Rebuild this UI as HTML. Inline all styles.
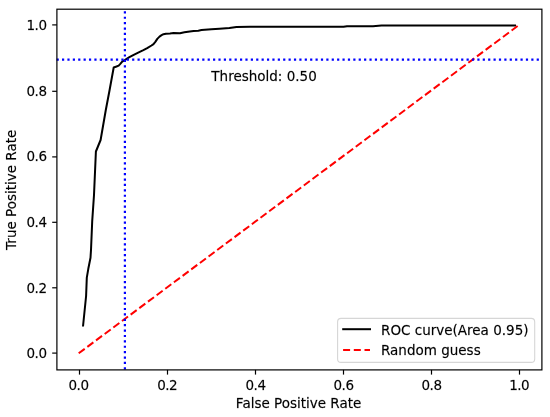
<!DOCTYPE html>
<html><head><meta charset="utf-8"><style>
html,body{margin:0;padding:0;background:#fff;}
svg{display:block;}
.tk{letter-spacing:-0.45px;}
text{font-family:"DejaVu Sans","Liberation Sans",sans-serif;font-size:13.5px;fill:#000;stroke:#000;stroke-width:0.3px;stroke-opacity:0.5;}
</style></head><body>
<svg width="550" height="417" viewBox="0 0 550 417">
<rect width="550" height="417" fill="#fff"/>
<g>
<polyline points="83.0,326.5 86.1,296.0 86.8,277.6 88.3,268.8 90.5,257.7 91.0,250.0 92.2,221.4 94.0,195.0 95.9,151.5 100.6,140.0 105.8,110.0 109.6,90.0 113.7,67.5 116.5,66.5 118.7,65.6 120.3,63.9 122.2,61.6 125.1,59.9 129.4,57.2 133.7,54.9 138.7,52.4 143.4,50.2 147.2,48.2 151.5,45.5 153.5,44.1 155.5,41.6 157.3,38.9 159.5,36.6 161.6,35.2 163.5,34.2 165.9,33.7 170.0,33.5 173.5,33.1 180.0,33.2 184.4,32.3 189.8,31.4 193.6,30.9 198.3,30.8 201.5,30.1 211.4,29.2 219.5,28.7 229.4,28.0 236.5,26.9 250.0,26.8 343.5,26.8 347.0,26.2 373.0,26.2 381.5,25.6 516.0,25.6" fill="none" stroke="#000" stroke-width="2" stroke-linejoin="round" stroke-linecap="butt"/>
<line x1="78.70" y1="353.32" x2="518.60" y2="25.32" stroke="#f00" stroke-width="2" stroke-dasharray="7.5 3.3"/>
<line x1="56.6" y1="59.65" x2="541.9" y2="59.65" stroke="#00f" stroke-width="2.2" stroke-dasharray="2.2 3.194"/>
<line x1="124.9" y1="369.45" x2="124.9" y2="9.2" stroke="#00f" stroke-width="2.2" stroke-dasharray="2.2 3.194"/>
<rect x="56.9" y="9.2" width="485.00" height="360.70" fill="none" stroke="#000" stroke-width="1.2"/>
<line x1="79.50" y1="369.9" x2="79.50" y2="374.60" stroke="#000" stroke-width="1.2"/>
<line x1="56.9" y1="353.10" x2="52.20" y2="353.10" stroke="#000" stroke-width="1.2"/>
<text class="tk" x="78.50" y="389.9" text-anchor="middle">0.0</text>
<text class="tk" x="46.6" y="358.20" text-anchor="end">0.0</text>
<line x1="167.50" y1="369.9" x2="167.50" y2="374.60" stroke="#000" stroke-width="1.2"/>
<line x1="56.9" y1="287.80" x2="52.20" y2="287.80" stroke="#000" stroke-width="1.2"/>
<text class="tk" x="167.20" y="389.9" text-anchor="middle">0.2</text>
<text class="tk" x="46.6" y="292.75" text-anchor="end">0.2</text>
<line x1="255.50" y1="369.9" x2="255.50" y2="374.60" stroke="#000" stroke-width="1.2"/>
<line x1="56.9" y1="222.30" x2="52.20" y2="222.30" stroke="#000" stroke-width="1.2"/>
<text class="tk" x="255.50" y="389.9" text-anchor="middle">0.4</text>
<text class="tk" x="46.6" y="227.45" text-anchor="end">0.4</text>
<line x1="343.50" y1="369.9" x2="343.50" y2="374.60" stroke="#000" stroke-width="1.2"/>
<line x1="56.9" y1="156.90" x2="52.20" y2="156.90" stroke="#000" stroke-width="1.2"/>
<text class="tk" x="343.50" y="389.9" text-anchor="middle">0.6</text>
<text class="tk" x="46.6" y="160.80" text-anchor="end">0.6</text>
<line x1="431.50" y1="369.9" x2="431.50" y2="374.60" stroke="#000" stroke-width="1.2"/>
<line x1="56.9" y1="91.30" x2="52.20" y2="91.30" stroke="#000" stroke-width="1.2"/>
<text class="tk" x="431.50" y="389.9" text-anchor="middle">0.8</text>
<text class="tk" x="46.6" y="95.65" text-anchor="end">0.8</text>
<line x1="519.50" y1="369.9" x2="519.50" y2="374.60" stroke="#000" stroke-width="1.2"/>
<line x1="56.9" y1="24.90" x2="52.20" y2="24.90" stroke="#000" stroke-width="1.2"/>
<text class="tk" x="519.20" y="389.9" text-anchor="middle">1.0</text>
<text class="tk" x="46.6" y="29.95" text-anchor="end">1.0</text>
<text x="298.6" y="408.2" text-anchor="middle">False Positive Rate</text>
<text transform="translate(16.4 189.8) rotate(-90)" text-anchor="middle">True Positive Rate</text>
<text x="211.35" y="80.6">Threshold: 0.50</text>
<rect x="337.6" y="318.4" width="197.1" height="44.0" rx="3.5" fill="#fff" fill-opacity="0.8" stroke="#d6d6d6" stroke-width="1.1"/>
<line x1="342.2" y1="329.2" x2="371.0" y2="329.2" stroke="#000" stroke-width="2"/>
<line x1="343.1" y1="349.9" x2="370.0" y2="349.9" stroke="#f00" stroke-width="2" stroke-dasharray="7.0 3.7"/>
<text x="381.0" y="334.6">ROC curve(Area 0.95)</text>
<text x="381.0" y="354.9">Random guess</text>
</g></svg>
</body></html>
